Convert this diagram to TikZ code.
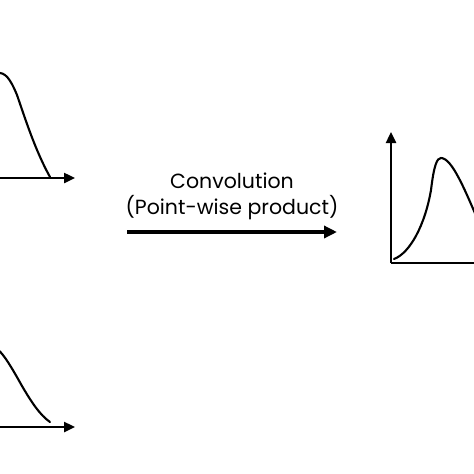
\documentclass[tikz,border=0pt]{standalone}
\usepackage{fontspec}
\setmainfont{Poppins}
\usetikzlibrary{arrows.meta}
\begin{document}
\begin{tikzpicture}[x=1pt,y=-1pt,
  axis/.style={line width=2.4pt,-{Triangle[length=11pt,width=10pt]}},
  bigarrow/.style={line width=3.3pt,-{Triangle[length=13pt,width=12pt]}},
  curve/.style={line width=2.1pt,line cap=round},
  lbl/.style={font=\fontsize{20.5}{26}\selectfont,align=center,inner sep=0pt}]
\useasboundingbox (0,0) rectangle (474,474);
% top-left plot
\coordinate (a1s) at (-5,178);
\coordinate (a1e) at (75,178);
\draw[axis] (a1s) -- (a1e);
\draw[curve] (-3,73) .. controls (5,72) and (10,78) .. (17,95)
  .. controls (25,118) and (35,150) .. (50,177);
% bottom-left plot
\coordinate (a2s) at (-5,427);
\coordinate (a2e) at (75,427);
\draw[axis] (a2s) -- (a2e);
\draw[curve] (-2,350) .. controls (3,353) and (12,368) .. (22,386)
  .. controls (32,403) and (40,415) .. (50,422);
% right plot
\coordinate (o) at (391,263);
\coordinate (ytop) at (391,132);
\coordinate (xend) at (480,263);
\draw[axis] (o) -- (ytop);
\draw[line width=2.4pt] (o) -- (xend);
\draw[curve] (394,259) .. controls (410,253) and (425,225) .. (431,190)
  .. controls (434,165) and (437,158) .. (441,158)
  .. controls (452,158) and (465,190) .. (480,225);
% label and arrow
\node[lbl] (t1) at (232,181) {Convolution};
\node[lbl] (t2) at (232,208) {(Point-wise product)};
\coordinate (as) at (127,232);
\coordinate (ae) at (337,232);
\draw[bigarrow] (as) -- (ae);
\end{tikzpicture}
\end{document}
